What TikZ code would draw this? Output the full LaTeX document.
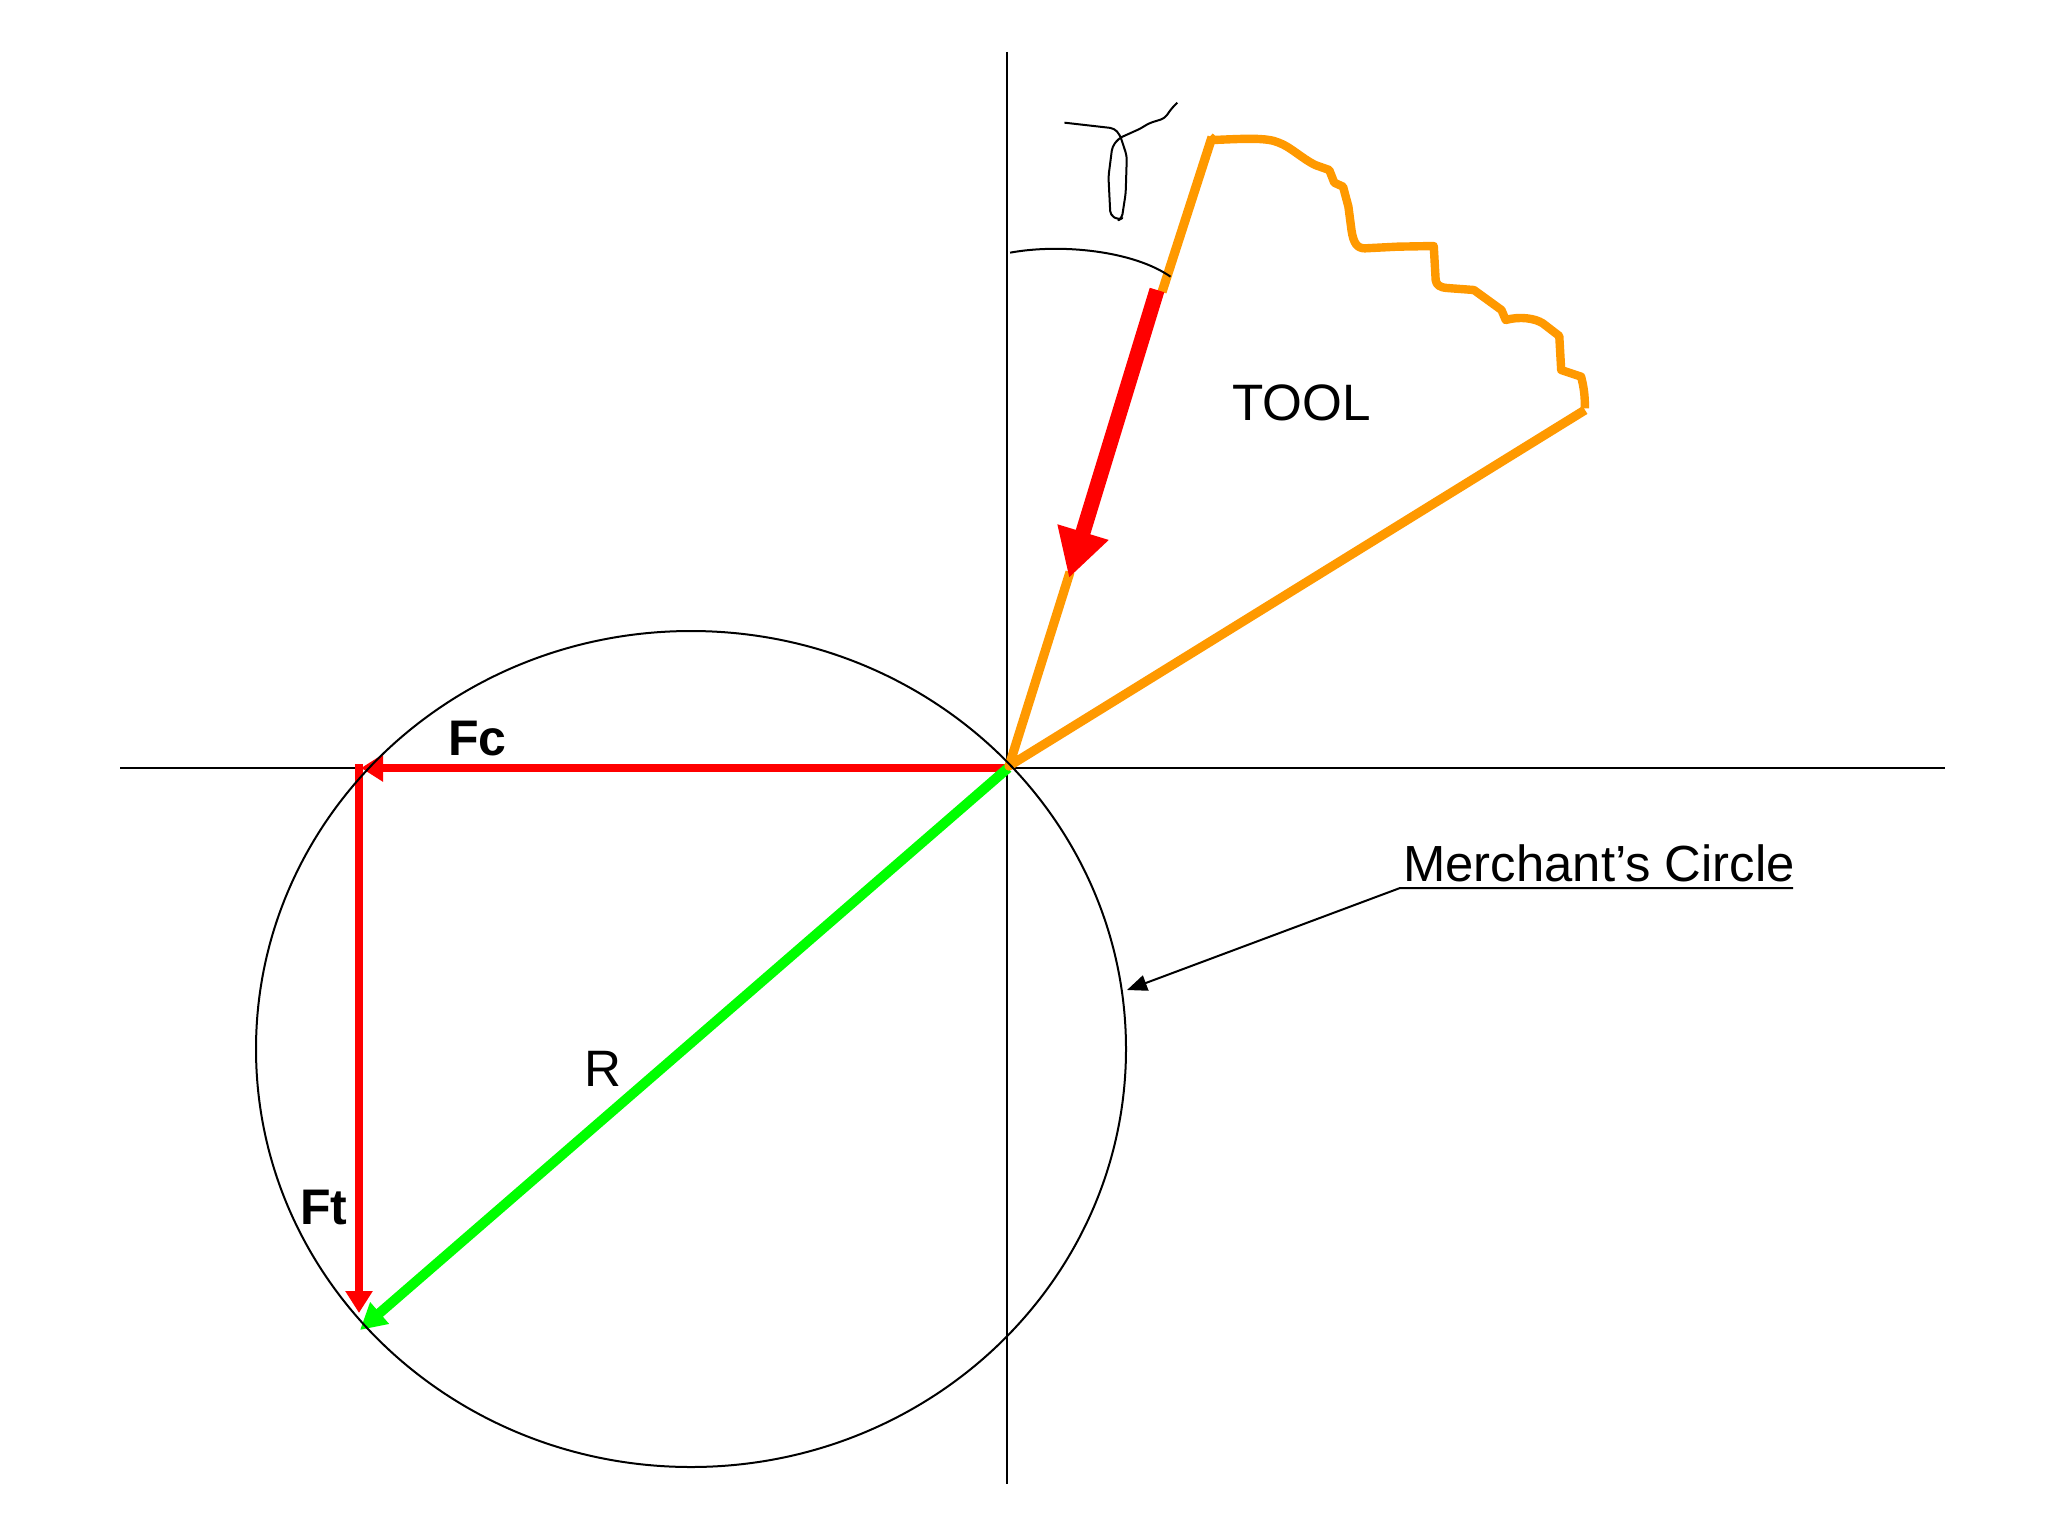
\documentclass[tikz,border=0pt]{standalone}
\usepackage{fontspec}
\setmainfont{Liberation Sans}
\usetikzlibrary{arrows.meta}
\definecolor{toolorange}{HTML}{FF9900}
\definecolor{fred}{HTML}{FF0000}
\definecolor{rgreen}{HTML}{00FF00}
\tikzset{
  thinblack/.style={draw=black,line width=1pt,line join=round},
  toolline/.style={draw=toolorange,line width=4.6pt,line join=round},
  toolprofile/.style={draw=toolorange,line width=4.2pt,line join=round},
  forcered/.style={draw=fred,line width=4.2pt,-{Triangle[length=11pt,width=13pt]}},
  forcegreen/.style={draw=rgreen,line width=5pt,-{Triangle[length=13pt,width=13.5pt]}},
  bigred/.style={draw=fred,line width=7.6pt,-{Triangle[length=24pt,width=25pt]}},
  lbl/.style={inner sep=0pt,anchor=base west,font=\fontsize{25.6}{30}\selectfont},
  blbl/.style={inner sep=0pt,anchor=base west,font=\fontsize{25}{30}\selectfont\bfseries},
}
\begin{document}
\begin{tikzpicture}[x=0.5pt,y=-0.5pt]
\useasboundingbox[fill=white] (0,0) rectangle (2048,1536);
\coordinate (O) at (1008,768);
\coordinate (Ocorner) at (1009,766);
\coordinate (FcEnd) at (361,768);
\coordinate (FtStart) at (359,764);
\coordinate (FtEnd) at (359,1313);
\coordinate (REnd) at (360,1330);
\coordinate (ToolTop) at (1212,137);
\coordinate (ToolLow) at (1585,410);
\coordinate (ToolGapA) at (1162,292);
\coordinate (ToolGapB) at (1070,572);
\coordinate (RedStart) at (1157,290);
\coordinate (RedEnd) at (1069,578);
\coordinate (AxisT) at (1007,52);
\coordinate (AxisB) at (1007,1484);
\coordinate (AxisL) at (120,768);
\coordinate (AxisR) at (1945,768);
\coordinate (LeadA) at (1793,888);
\coordinate (LeadB) at (1400,888);
\coordinate (LeadEnd) at (1127,990);
% axes
\draw[thinblack] (AxisT) -- (AxisB);
\draw[thinblack] (AxisL) -- (AxisR);
% forces
\draw[forcered] (O) -- (FcEnd);
\draw[forcered] (FtStart) -- (FtEnd);
\draw[forcegreen] (O) -- (REnd);
% tool
\draw[toolline] (ToolGapB) -- (Ocorner) -- (ToolLow);
\draw[toolline] (ToolTop) -- (ToolGapA);
\begin{scope}[shift={(1030,80)},x=0.19135pt,y=-0.16667pt]
\draw[toolprofile] (470,170) -- (480,180) .. controls (560,176) and (620,172) .. (650,188)
 .. controls (680,200) and (710,235) .. (745,255) -- (782,270) -- (795,308) -- (818,320) -- (832,380) -- (840,450)
 .. controls (845,490) and (855,505) .. (875,505) -- (960,500) -- (1055,498) -- (1060,600)
 .. controls (1062,615) and (1070,622) .. (1090,624) -- (1160,630) -- (1232,690) -- (1243,720)
 .. controls (1280,708) and (1320,715) .. (1340,730) -- (1383,768) -- (1388,870)
 -- (1440,890) .. controls (1448,925) and (1450,950) .. (1450,985);
\draw[thinblack,rounded corners=2pt] (90,128) -- (220,145) -- (235,165) -- (253,228) -- (250,340) -- (240,415)
 -- (232,420) -- (210,405) -- (205,290) -- (215,200) -- (232,175) -- (290,145) -- (310,130)
 -- (352,115) -- (370,85) -- (385,68);
\draw[thinblack] (-52,518) .. controls (80,490) and (270,512) .. (367,590);
\end{scope}
\draw[bigred] (RedStart) -- (RedEnd);
% circle and leader
\draw[thinblack] (691,1049) ellipse [x radius=435, y radius=418];
\draw[thinblack] (LeadA) -- (LeadB) -- (LeadEnd) [-{Triangle[length=10pt,width=8pt]}];
% labels
\node[lbl] (tool) at (1232,420) {TOOL};
\node[lbl,font=\fontsize{25.4}{30}\selectfont] (merch) at (1403,881) {Merchant’s Circle};
\node[lbl] (r) at (584,1086) {R};
\node[blbl] (fc) at (448,755) {Fc};
\node[blbl] (ft) at (300,1224) {Ft};
\end{tikzpicture}
\end{document}
